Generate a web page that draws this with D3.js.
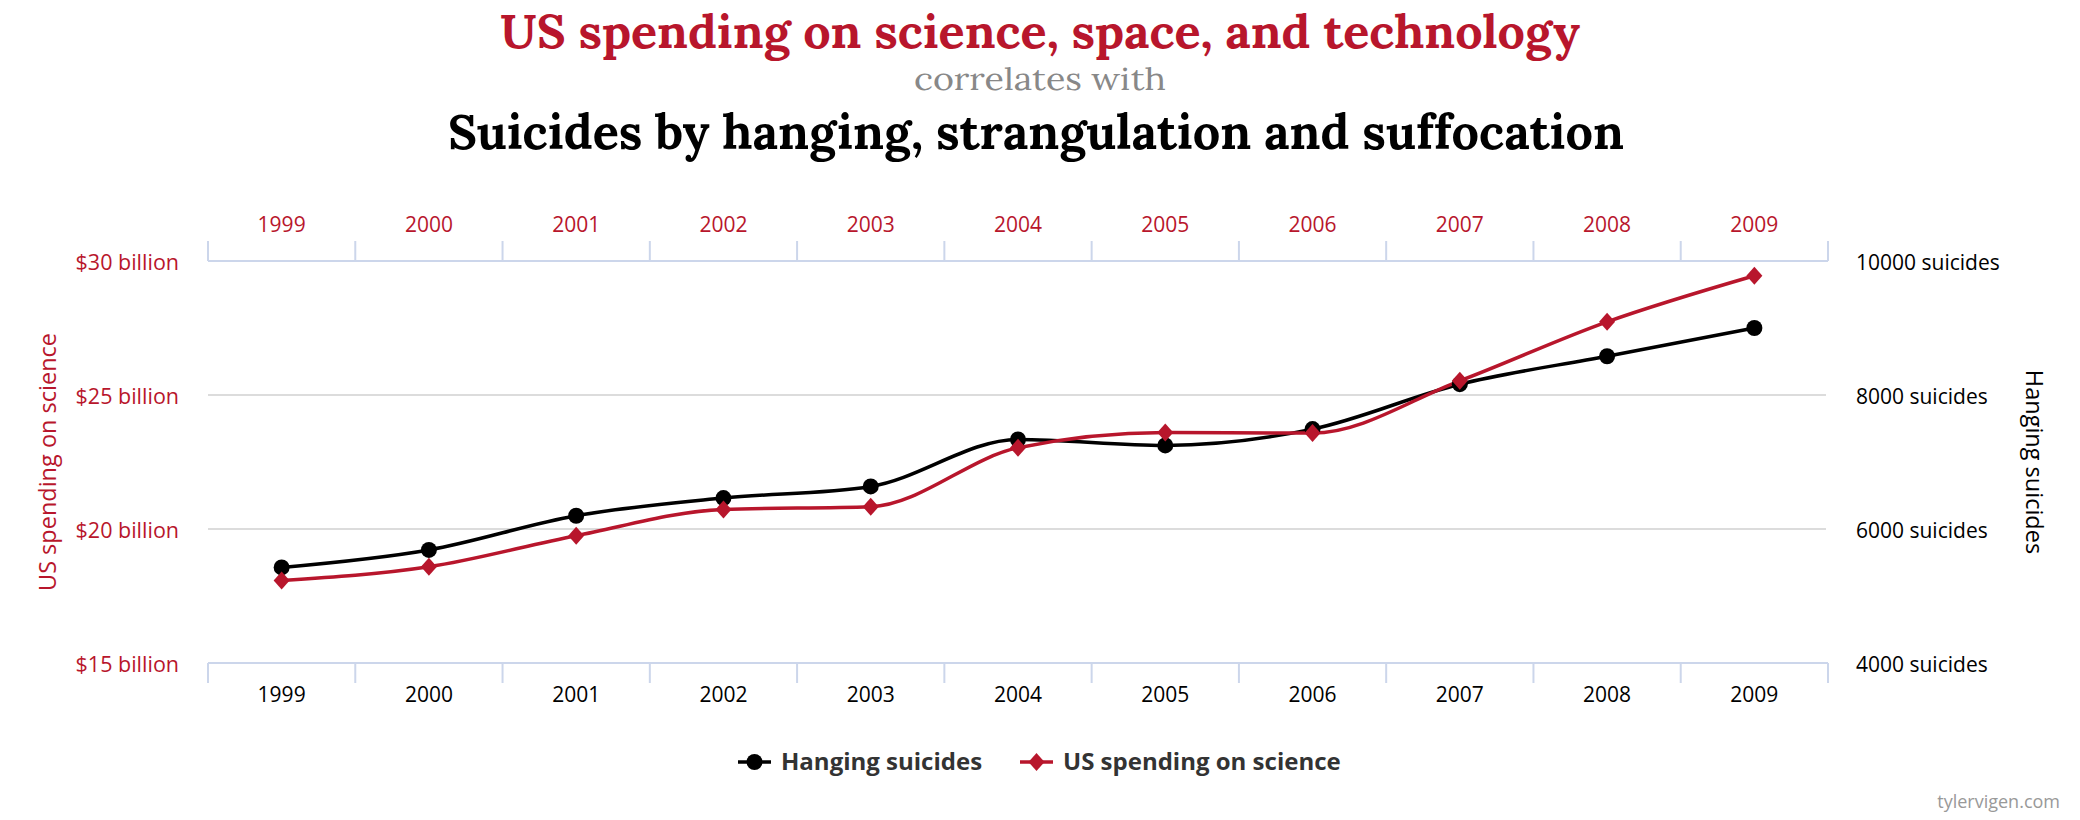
<!DOCTYPE html>
<html>
<head>
<meta charset="utf-8">
<script src="https://cdn.jsdelivr.net/npm/d3@7"></script>
<style>
  body { margin: 0; background: #fff; }
  svg { display: block; font-family: "Open Sans", sans-serif; }
</style>
</head>
<body>
<div id="chart"></div>
<script>
// data
const years = ["1999", "2000", "2001", "2002", "2003", "2004", "2005", "2006", "2007", "2008", "2009"];
const hangingSuicides = [5427, 5688, 6198, 6462, 6635, 7336, 7248, 7491, 8161, 8578, 9000];
const scienceSpending = [18.08, 18.59, 19.75, 20.73, 20.83, 23.03, 23.60, 23.58, 25.53, 27.73, 29.45];
const leftTicks = [15, 20, 25, 30];
const rightTicks = [4000, 6000, 8000, 10000];

const width = 2080, height = 820;
const margin = { top: 261, right: 252, bottom: 157, left: 208 };
const red = "#b8162c";

const svg = d3.select("#chart").append("svg")
    .attr("width", width)
    .attr("height", height);

// Scales
const x = d3.scaleBand()
    .domain(years)
    .range([margin.left, width - margin.right])
    .padding(0);

const yLeft = d3.scaleLinear()
    .domain([15, 30])
    .range([height - margin.bottom, margin.top]);

const yRight = d3.scaleLinear()
    .domain([4000, 10000])
    .range([height - margin.bottom, margin.top]);

const cx = d => x(d) + x.bandwidth() / 2;

// Titles
svg.append("text")
    .attr("x", 1040).attr("y", 48)
    .attr("text-anchor", "middle")
    .attr("textLength", 1080).attr("lengthAdjust", "spacingAndGlyphs")
    .style("font-family", "Lora, 'Liberation Serif', serif")
    .style("font-weight", "bold")
    .style("font-size", "47px")
    .attr("fill", red)
    .text("US spending on science, space, and technology");

svg.append("text")
    .attr("x", 1040).attr("y", 90)
    .attr("text-anchor", "middle")
    .attr("textLength", 252).attr("lengthAdjust", "spacingAndGlyphs")
    .style("font-family", "Lora, 'Liberation Serif', serif")
    .style("font-size", "30px")
    .attr("fill", "#888")
    .text("correlates with");

svg.append("text")
    .attr("x", 1036).attr("y", 149)
    .attr("text-anchor", "middle")
    .attr("textLength", 1176).attr("lengthAdjust", "spacingAndGlyphs")
    .style("font-family", "Lora, 'Liberation Serif', serif")
    .style("font-weight", "bold")
    .style("font-size", "48px")
    .attr("fill", "#000")
    .text("Suicides by hanging, strangulation and suffocation");

// Gridlines
svg.append("g")
    .selectAll("line")
    .data(leftTicks.filter(d => d !== 15 && d !== 30))
    .join("line")
    .attr("x1", margin.left).attr("x2", width - margin.right - 2)
    .attr("y1", d => yLeft(d)).attr("y2", d => yLeft(d))
    .attr("stroke", "#dcdcdc")
    .attr("stroke-width", 2);

// Top and bottom category axes (ticks at band edges)
const edges = years.map(d => x(d)).concat([x.range()[1]]);

function categoryAxis(yPos, dir, labelColor, labelY) {
    const g = svg.append("g");
    g.append("line")
        .attr("x1", margin.left).attr("x2", width - margin.right)
        .attr("y1", yPos).attr("y2", yPos)
        .attr("stroke", "#ccd6eb").attr("stroke-width", 2);
    g.selectAll("line.tick")
        .data(edges)
        .join("line")
        .attr("class", "tick")
        .attr("x1", d => d).attr("x2", d => d)
        .attr("y1", yPos).attr("y2", yPos + dir * 20)
        .attr("stroke", "#ccd6eb").attr("stroke-width", 2);
    g.selectAll("text")
        .data(years)
        .join("text")
        .attr("x", d => cx(d))
        .attr("y", labelY)
        .attr("text-anchor", "middle")
        .style("font-size", "21px")
        .attr("fill", labelColor)
        .text(d => d);
}
categoryAxis(yLeft(30), -1, red, 232);
categoryAxis(yLeft(15), 1, "#000", 702);

// Left axis labels
svg.append("g")
    .selectAll("text")
    .data(leftTicks)
    .join("text")
    .attr("x", 179)
    .attr("y", d => yLeft(d) + 9)
    .attr("text-anchor", "end")
    .style("font-size", "21.5px")
    .attr("fill", red)
    .text(d => `$${d} billion`);

// Right axis labels
svg.append("g")
    .selectAll("text")
    .data(rightTicks)
    .join("text")
    .attr("x", 1856)
    .attr("y", d => yRight(d) + 9)
    .attr("text-anchor", "start")
    .style("font-size", "21px")
    .attr("fill", "#000")
    .text(d => `${d} suicides`);

// Axis titles
svg.append("text")
    .attr("transform", `translate(56, ${(yLeft(15) + yLeft(30)) / 2}) rotate(-90)`)
    .attr("text-anchor", "middle")
    .style("font-size", "23.5px")
    .attr("fill", red)
    .text("US spending on science");

svg.append("text")
    .attr("transform", `translate(2026, ${(yLeft(15) + yLeft(30)) / 2}) rotate(90)`)
    .attr("text-anchor", "middle")
    .style("font-size", "23.5px")
    .attr("fill", "#000")
    .text("Hanging suicides");

// Lines
const blackLine = d3.line()
    .x((d, i) => cx(years[i]))
    .y(d => yRight(d))
    .curve(d3.curveMonotoneX);

const redLine = d3.line()
    .x((d, i) => cx(years[i]))
    .y(d => yLeft(d))
    .curve(d3.curveMonotoneX);

svg.append("path")
    .datum(hangingSuicides)
    .attr("d", blackLine)
    .attr("fill", "none")
    .attr("stroke", "#000")
    .attr("stroke-width", 3.5);

svg.append("path")
    .datum(scienceSpending)
    .attr("d", redLine)
    .attr("fill", "none")
    .attr("stroke", red)
    .attr("stroke-width", 3.5);

// Markers
const diamond = "M0,-9 L8,0 L0,9 L-8,0 Z";

svg.append("g")
    .selectAll("circle")
    .data(hangingSuicides)
    .join("circle")
    .attr("cx", (d, i) => cx(years[i]))
    .attr("cy", d => yRight(d))
    .attr("r", 8)
    .attr("fill", "#000");

svg.append("g")
    .selectAll("path")
    .data(scienceSpending)
    .join("path")
    .attr("transform", (d, i) => `translate(${cx(years[i])},${yLeft(d)})`)
    .attr("d", diamond)
    .attr("fill", red);

// Legend
const legendItems = [
    { name: "Hanging suicides", color: "#000", shape: "circle", x: 738 },
    { name: "US spending on science", color: red, shape: "diamond", x: 1020 }
];

const legend = svg.append("g");
legendItems.forEach(item => {
    const g = legend.append("g").attr("transform", `translate(${item.x}, 762)`);
    g.append("line")
        .attr("x1", 0).attr("x2", 33)
        .attr("stroke", item.color).attr("stroke-width", 3.5);
    if (item.shape === "circle") {
        g.append("circle").attr("cx", 16.5).attr("r", 8).attr("fill", item.color);
    } else {
        g.append("path").attr("transform", "translate(16.5,0)").attr("d", diamond).attr("fill", item.color);
    }
    g.append("text")
        .attr("x", 43).attr("y", 8)
        .style("font-size", "24px")
        .style("font-weight", "bold")
        .attr("fill", "#333")
        .text(item.name);
});

// Credit
svg.append("text")
    .attr("x", 2060).attr("y", 808)
    .attr("text-anchor", "end")
    .style("font-size", "18px")
    .attr("fill", "#999")
    .text("tylervigen.com");
</script>
</body>
</html>
